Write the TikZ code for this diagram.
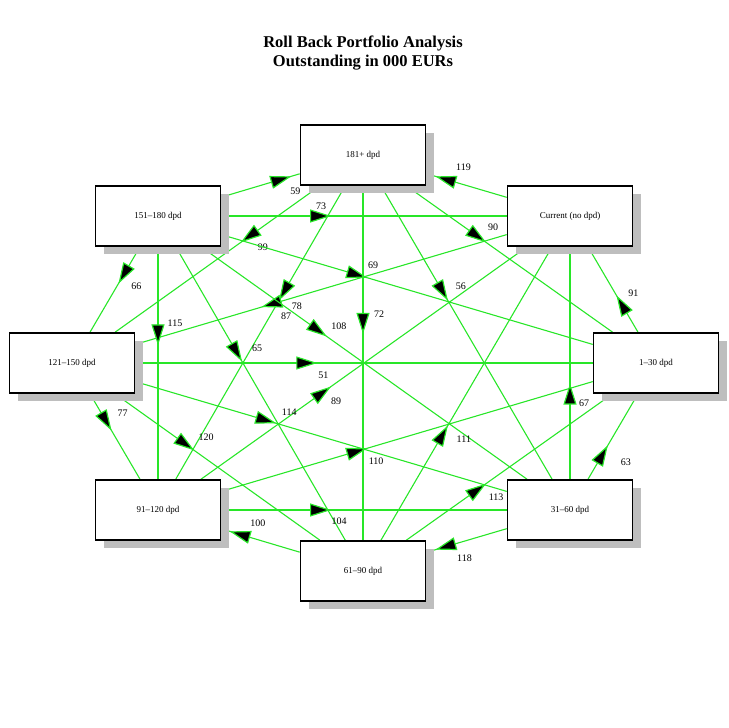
\documentclass[tikz,border=0pt]{standalone}
\usepackage{fontspec}
\setmainfont{Liberation Serif}
\usetikzlibrary{arrows.meta,shadows,backgrounds,decorations.markings}

\definecolor{flowgreen}{RGB}{40,230,40}
\definecolor{shadowgray}{RGB}{190,190,190}

% bucket box and flow arrow styles
\tikzset{
  bucket/.style={draw=black, line width=1.6pt, fill=white, minimum width=125pt, minimum height=60pt,
    font=\fontsize{9}{10}\selectfont,
    drop shadow={shadow xshift=8pt, shadow yshift=-8pt, fill=shadowgray, opacity=1}},
  flow/.style={draw=flowgreen, line width=1.1pt},
  amount/.style={font=\fontsize{10}{11}\selectfont, inner sep=0pt},
  headtip/.tip={Triangle[length=21pt, width=13pt, fill=black]}
}

% \rollflow{from}{to}{pos}{amount}{dx}{dy}
\newcommand{\rollflow}[6]{%
  \draw[flow] (#1) -- (#2);
  \path[postaction={decorate}, decoration={markings,
      mark=at position #3 with {\arrow[flowgreen, line width=1.2pt]{headtip}}}]
    (#1.center) -- (#2.center)
    node[amount, pos=#3, xshift=#5pt, yshift=#6pt] {#4};
}

\begin{document}
\begin{tikzpicture}[x=1pt, y=1pt]
  \useasboundingbox (0,0) rectangle (728,-728);

  % title
  \node[font=\bfseries\fontsize{16.5}{19.5}\selectfont, align=center] (title) at (363,-53)
    {Roll Back Portfolio Analysis\\ Outstanding in 000 EURs};

  % buckets
  \node[bucket] (d181) at (363,-155) {181+ dpd};
  \node[bucket] (cur)  at (570,-216) {Current (no dpd)};
  \node[bucket] (d1)   at (656,-363) {1--30 dpd};
  \node[bucket] (d31)  at (570,-510) {31--60 dpd};
  \node[bucket] (d61)  at (363,-571) {61--90 dpd};
  \node[bucket] (d91)  at (158,-510) {91--120 dpd};
  \node[bucket] (d121) at (72,-363)  {121--150 dpd};
  \node[bucket] (d151) at (158,-216) {151--180 dpd};

  % roll flows
  \begin{scope}[on background layer]
    \rollflow{d151}{d181}{0.65}{59}{4}{-15}
    \rollflow{cur}{d181}{0.65}{119}{28}{9}
    \rollflow{d151}{cur}{0.42}{73}{-10}{10}
    \rollflow{d181}{d121}{0.42}{99}{22}{-5}
    \rollflow{d181}{d1}{0.42}{90}{7}{15}
    \rollflow{d151}{d1}{0.42}{69}{6}{13}
    \rollflow{d181}{d31}{0.41}{56}{13}{14}
    \rollflow{d181}{d91}{0.41}{78}{18}{-6}
    \rollflow{cur}{d121}{0.62}{87}{25}{-9}
    \rollflow{d181}{d61}{0.43}{72}{16}{20}
    \rollflow{d151}{d31}{0.41}{108}{12}{10}
    \rollflow{d151}{d61}{0.41}{65}{15}{13}
    \rollflow{d121}{d1}{0.42}{51}{6}{-12}
    \rollflow{d91}{cur}{0.42}{89}{5}{-15}
    \rollflow{d121}{d31}{0.41}{114}{13}{11}
    \rollflow{d91}{d1}{0.42}{110}{9}{-13}
    \rollflow{d61}{cur}{0.41}{111}{16}{-14}
    \rollflow{d61}{d1}{0.42}{113}{10}{-14}
    \rollflow{d91}{d31}{0.42}{104}{8}{-11}
    \rollflow{d61}{d91}{0.65}{100}{28}{8}
    \rollflow{d31}{d61}{0.65}{118}{29}{-9}
    \rollflow{d121}{d61}{0.42}{120}{12}{13}
    \rollflow{d151}{d91}{0.44}{115}{17}{22}
    \rollflow{d151}{d121}{0.46}{66}{18}{-3}
    \rollflow{d121}{d91}{0.46}{77}{11}{17}
    \rollflow{d1}{cur}{0.46}{91}{17}{2}
    \rollflow{d31}{cur}{0.43}{67}{14}{-20}
    \rollflow{d31}{d1}{0.44}{63}{18}{-17}
  \end{scope}
\end{tikzpicture}
\end{document}
